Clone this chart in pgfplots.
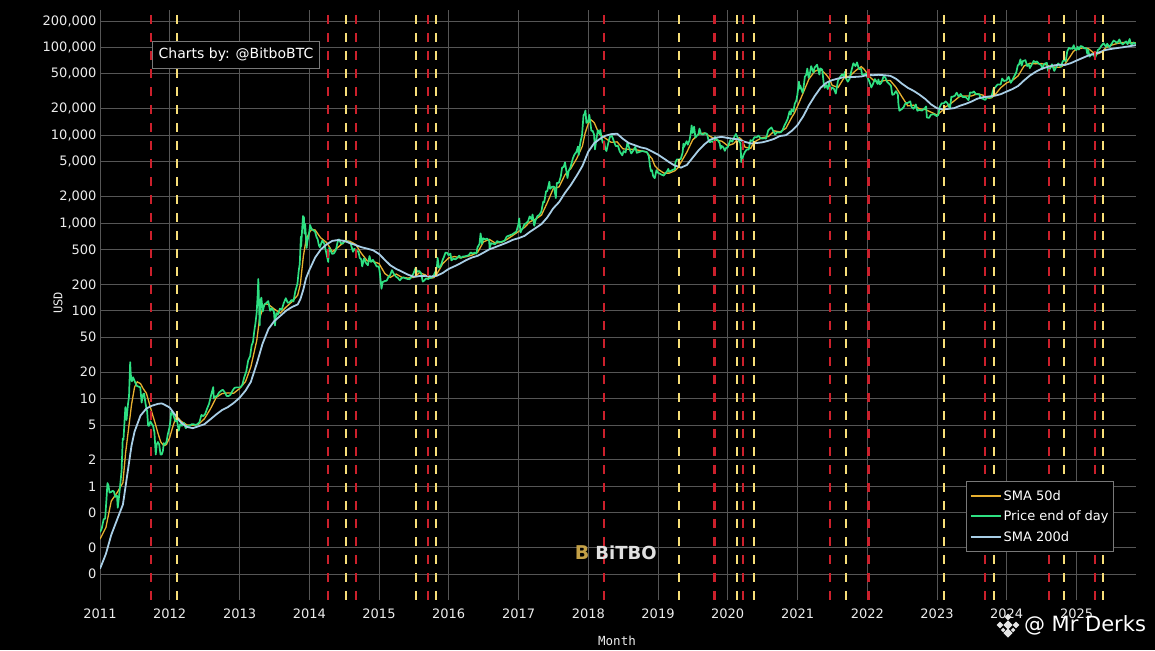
\documentclass[border=0pt]{standalone}
\usepackage{pgfplots}
\usepackage{pgfplotstable}
\pgfplotsset{compat=1.18}
\usepgfplotslibrary{dateplot}
\usepackage{fontspec}
\setmainfont{DejaVu Sans}
\newfontfamily\monofont{DejaVu Sans Mono}

\definecolor{priceGreen}{RGB}{46,224,130}
\definecolor{smaFifty}{RGB}{232,176,48}
\definecolor{smaTwoHundred}{RGB}{168,206,230}
\definecolor{crossRed}{RGB}{204,32,44}
\definecolor{crossYellow}{RGB}{247,222,120}
\definecolor{gridGray}{RGB}{86,86,86}
\definecolor{labelWhite}{RGB}{236,236,236}
\definecolor{boxGray}{RGB}{120,120,120}
\definecolor{bitboGold}{RGB}{196,160,70}

% daily close, sampled a few times a month
\pgfplotstableread{
date price
2011-01-01 0.30
2011-01-10 0.33
2011-01-20 0.42
2011-01-28 0.43
2011-02-04 0.72
2011-02-09 1.09
2011-02-14 1.03
2011-02-20 0.85
2011-02-28 0.86
2011-03-08 0.89
2011-03-15 0.87
2011-03-22 0.76
2011-03-31 0.78
2011-04-04 0.57
2011-04-10 0.74
2011-04-17 1.05
2011-04-24 1.50
2011-04-30 3.50
2011-05-04 3.40
2011-05-10 5.80
2011-05-14 8.00
2011-05-20 5.70
2011-05-27 8.40
2011-06-02 10.6
2011-06-05 16.7
2011-06-08 26.0
2011-06-10 21.0
2011-06-13 17.0
2011-06-17 15.7
2011-06-23 17.5
2011-06-30 16.1
2011-07-07 14.8
2011-07-14 13.9
2011-07-21 13.7
2011-07-31 13.4
2011-08-07 9.0
2011-08-10 9.9
2011-08-16 11.3
2011-08-20 11.4
2011-08-28 8.6
2011-09-05 7.1
2011-09-10 4.9
2011-09-15 4.9
2011-09-22 5.5
2011-09-30 5.1
2011-10-06 4.9
2011-10-13 4.1
2011-10-20 2.3
2011-10-25 3.0
2011-10-31 3.2
2011-11-07 3.0
2011-11-14 2.3
2011-11-20 2.3
2011-11-26 2.5
2011-12-01 3.1
2011-12-08 3.0
2011-12-15 3.2
2011-12-22 3.9
2011-12-31 4.7
2012-01-05 5.6
2012-01-09 7.1
2012-01-15 6.9
2012-01-22 6.3
2012-01-31 5.5
2012-02-08 5.7
2012-02-17 4.3
2012-02-25 5.1
2012-03-05 4.9
2012-03-15 5.3
2012-03-25 4.6
2012-04-05 4.9
2012-04-15 4.9
2012-04-25 5.1
2012-05-05 5.1
2012-05-15 5.0
2012-05-25 5.1
2012-06-05 5.4
2012-06-15 6.5
2012-06-25 6.3
2012-07-05 6.7
2012-07-15 7.7
2012-07-25 8.7
2012-08-05 11.0
2012-08-16 13.5
2012-08-19 10.0
2012-08-25 10.5
2012-09-05 10.7
2012-09-15 11.7
2012-09-25 12.2
2012-10-05 12.6
2012-10-15 11.8
2012-10-25 10.7
2012-11-05 10.7
2012-11-15 11.1
2012-11-25 12.3
2012-12-05 13.2
2012-12-15 13.4
2012-12-25 13.4
2013-01-05 13.4
2013-01-15 14.3
2013-01-25 17.4
2013-02-05 20.4
2013-02-15 27.2
2013-02-25 30.3
2013-03-05 40.3
2013-03-12 44.0
2013-03-19 59.0
2013-03-25 72.0
2013-03-31 93.0
2013-04-05 142
2013-04-09 230
2013-04-11 165
2013-04-16 68
2013-04-20 127
2013-04-25 141
2013-05-02 98
2013-05-10 117
2013-05-20 122
2013-05-31 129
2013-06-10 100
2013-06-20 107
2013-06-30 97
2013-07-05 68
2013-07-12 94
2013-07-20 90
2013-07-31 106
2013-08-10 103
2013-08-20 122
2013-08-31 139
2013-09-10 123
2013-09-20 125
2013-09-30 133
2013-10-10 128
2013-10-20 167
2013-10-31 204
2013-11-07 290
2013-11-12 340
2013-11-18 700
2013-11-19 540
2013-11-24 810
2013-11-29 1200
2013-12-04 1150
2013-12-07 760
2013-12-10 980
2013-12-18 520
2013-12-22 620
2013-12-31 760
2014-01-05 950
2014-01-12 860
2014-01-20 830
2014-01-31 800
2014-02-07 700
2014-02-14 650
2014-02-20 560
2014-02-25 530
2014-03-01 560
2014-03-10 630
2014-03-20 585
2014-03-31 455
2014-04-10 360
2014-04-15 520
2014-04-22 490
2014-04-30 445
2014-05-10 450
2014-05-20 490
2014-05-31 630
2014-06-05 650
2014-06-15 590
2014-06-25 580
2014-07-05 630
2014-07-15 620
2014-07-25 600
2014-08-05 590
2014-08-18 470
2014-08-25 510
2014-09-05 480
2014-09-15 475
2014-09-22 400
2014-09-30 385
2014-10-05 320
2014-10-15 395
2014-10-25 350
2014-11-04 330
2014-11-12 420
2014-11-20 360
2014-11-30 380
2014-12-10 350
2014-12-20 320
2014-12-31 320
2015-01-05 275
2015-01-14 178
2015-01-20 212
2015-01-31 218
2015-02-10 220
2015-02-20 244
2015-02-28 254
2015-03-10 290
2015-03-20 262
2015-03-31 245
2015-04-10 236
2015-04-20 222
2015-04-30 236
2015-05-10 240
2015-05-20 234
2015-05-31 230
2015-06-10 229
2015-06-20 245
2015-06-30 264
2015-07-12 310
2015-07-20 278
2015-07-31 284
2015-08-10 265
2015-08-18 215
2015-08-25 220
2015-09-05 234
2015-09-15 230
2015-09-25 236
2015-10-05 240
2015-10-15 254
2015-10-25 285
2015-10-31 314
2015-11-04 400
2015-11-11 310
2015-11-20 322
2015-11-30 378
2015-12-08 415
2015-12-15 460
2015-12-25 455
2015-12-31 430
2016-01-10 448
2016-01-15 375
2016-01-25 392
2016-02-05 385
2016-02-15 400
2016-02-25 425
2016-03-05 400
2016-03-15 415
2016-03-25 417
2016-04-05 422
2016-04-15 430
2016-04-25 462
2016-05-05 448
2016-05-15 458
2016-05-25 448
2016-05-31 530
2016-06-10 575
2016-06-16 760
2016-06-23 580
2016-06-30 670
2016-07-10 650
2016-07-20 665
2016-07-31 624
2016-08-02 515
2016-08-10 590
2016-08-20 580
2016-08-31 573
2016-09-10 622
2016-09-20 608
2016-09-30 609
2016-10-10 617
2016-10-20 630
2016-10-31 700
2016-11-10 715
2016-11-20 730
2016-11-30 743
2016-12-10 772
2016-12-20 796
2016-12-31 964
2017-01-04 1130
2017-01-11 780
2017-01-15 820
2017-01-25 890
2017-01-31 965
2017-02-10 995
2017-02-20 1050
2017-02-28 1190
2017-03-10 1100
2017-03-15 1250
2017-03-24 930
2017-03-31 1080
2017-04-10 1200
2017-04-20 1240
2017-04-30 1350
2017-05-10 1750
2017-05-15 1720
2017-05-25 2300
2017-05-31 2300
2017-06-11 2950
2017-06-15 2450
2017-06-25 2580
2017-07-05 2600
2017-07-15 1920
2017-07-20 2850
2017-07-31 2870
2017-08-10 3400
2017-08-17 4300
2017-08-25 4340
2017-09-01 4900
2017-09-14 3250
2017-09-20 3900
2017-09-30 4340
2017-10-12 5430
2017-10-20 6000
2017-10-31 6470
2017-11-08 7440
2017-11-12 5950
2017-11-20 8200
2017-11-29 9950
2017-12-07 16900
2017-12-12 17400
2017-12-17 19100
2017-12-22 13800
2017-12-31 14150
2018-01-06 17100
2018-01-12 13900
2018-01-17 11200
2018-01-24 11200
2018-01-31 10200
2018-02-05 6900
2018-02-12 8900
2018-02-20 11400
2018-02-28 10400
2018-03-05 11500
2018-03-12 9200
2018-03-18 8200
2018-03-25 8500
2018-03-31 6970
2018-04-06 6600
2018-04-15 8050
2018-04-24 9600
2018-05-05 9800
2018-05-15 8500
2018-05-25 7500
2018-06-05 7600
2018-06-15 6500
2018-06-28 5900
2018-07-05 6600
2018-07-15 6350
2018-07-25 8200
2018-08-05 7000
2018-08-14 6200
2018-08-25 6700
2018-09-04 7370
2018-09-12 6300
2018-09-25 6450
2018-10-10 6600
2018-10-25 6500
2018-11-05 6400
2018-11-14 5750
2018-11-20 4450
2018-11-25 3900
2018-11-30 4000
2018-12-07 3400
2018-12-15 3240
2018-12-24 4000
2018-12-31 3740
2019-01-10 3650
2019-01-20 3550
2019-01-31 3470
2019-02-08 3660
2019-02-18 3900
2019-02-24 4140
2019-02-28 3850
2019-03-10 3920
2019-03-20 4050
2019-03-31 4100
2019-04-02 4880
2019-04-10 5300
2019-04-20 5300
2019-04-30 5350
2019-05-10 6350
2019-05-14 8000
2019-05-17 7340
2019-05-25 8050
2019-05-31 8560
2019-06-06 7800
2019-06-15 8800
2019-06-22 10700
2019-06-26 12900
2019-07-02 10600
2019-07-09 12500
2019-07-16 9400
2019-07-23 9900
2019-07-31 10100
2019-08-06 11900
2019-08-15 10300
2019-08-25 10150
2019-09-05 10600
2019-09-15 10300
2019-09-24 8500
2019-09-30 8300
2019-10-10 8600
2019-10-22 8200
2019-10-26 9550
2019-10-31 9200
2019-11-10 8800
2019-11-20 8100
2019-11-25 7000
2019-11-30 7560
2019-12-10 7220
2019-12-17 6640
2019-12-25 7250
2019-12-31 7200
2020-01-08 8050
2020-01-15 8820
2020-01-25 8440
2020-02-05 9610
2020-02-13 10330
2020-02-20 9600
2020-02-29 8600
2020-03-08 8100
2020-03-12 4950
2020-03-16 5030
2020-03-22 5830
2020-03-31 6440
2020-04-10 6870
2020-04-20 6880
2020-04-29 8780
2020-05-10 8600
2020-05-20 9520
2020-05-31 9450
2020-06-10 9880
2020-06-20 9300
2020-06-30 9140
2020-07-10 9240
2020-07-20 9160
2020-07-31 11350
2020-08-10 11900
2020-08-17 12250
2020-08-25 11360
2020-09-05 10170
2020-09-15 10790
2020-09-25 10740
2020-10-05 10790
2020-10-15 11510
2020-10-25 13030
2020-10-31 13800
2020-11-10 15340
2020-11-20 18700
2020-11-26 17150
2020-11-30 19700
2020-12-10 18540
2020-12-17 22800
2020-12-25 24700
2020-12-31 29000
2021-01-08 40800
2021-01-12 33900
2021-01-15 36800
2021-01-22 33000
2021-01-27 30400
2021-01-31 33100
2021-02-08 46400
2021-02-15 48700
2021-02-21 57500
2021-02-28 45100
2021-03-05 48900
2021-03-13 61200
2021-03-25 51700
2021-03-31 58900
2021-04-13 63500
2021-04-25 49000
2021-04-30 57700
2021-05-10 55800
2021-05-19 37000
2021-05-23 34700
2021-05-31 37300
2021-06-08 33500
2021-06-15 40200
2021-06-22 32500
2021-06-30 35000
2021-07-10 33800
2021-07-20 29800
2021-07-31 41500
2021-08-10 45600
2021-08-22 49300
2021-08-31 47100
2021-09-06 52700
2021-09-10 44900
2021-09-21 40700
2021-09-30 43800
2021-10-10 54700
2021-10-20 66000
2021-10-31 61300
2021-11-08 67500
2021-11-18 56900
2021-11-30 57000
2021-12-04 49400
2021-12-15 48900
2021-12-27 50600
2021-12-31 46300
2022-01-10 41800
2022-01-22 35000
2022-01-31 38500
2022-02-10 43600
2022-02-24 38300
2022-02-28 43200
2022-03-07 38000
2022-03-15 39300
2022-03-28 47100
2022-04-05 45500
2022-04-15 40500
2022-04-30 37700
2022-05-05 36500
2022-05-12 28900
2022-05-20 29200
2022-05-31 31800
2022-06-10 29100
2022-06-13 22500
2022-06-18 19000
2022-06-30 19800
2022-07-10 20800
2022-07-20 23200
2022-07-31 23300
2022-08-14 24300
2022-08-20 21100
2022-08-31 20000
2022-09-12 22400
2022-09-20 19000
2022-09-30 19400
2022-10-15 19100
2022-10-31 20500
2022-11-05 21300
2022-11-09 15900
2022-11-21 15800
2022-11-30 17100
2022-12-15 17400
2022-12-31 16500
2023-01-08 17100
2023-01-15 20900
2023-01-25 23100
2023-02-05 23000
2023-02-15 24300
2023-02-25 23100
2023-03-10 20200
2023-03-17 27400
2023-03-25 27500
2023-04-05 28200
2023-04-14 30500
2023-04-25 27500
2023-05-05 29500
2023-05-15 27200
2023-05-31 27200
2023-06-15 25100
2023-06-23 30700
2023-07-05 30500
2023-07-13 31500
2023-07-25 29200
2023-08-10 29400
2023-08-17 26600
2023-08-31 25900
2023-09-11 25200
2023-09-20 27200
2023-09-30 27000
2023-10-12 26800
2023-10-24 33900
2023-10-31 34600
2023-11-09 36700
2023-11-15 37900
2023-11-30 37700
2023-12-08 44200
2023-12-18 41400
2023-12-31 42300
2024-01-11 46300
2024-01-22 39500
2024-01-31 42600
2024-02-10 47100
2024-02-20 52000
2024-02-28 62500
2024-03-05 63800
2024-03-13 73100
2024-03-19 62000
2024-03-26 70000
2024-04-08 71600
2024-04-17 61300
2024-04-25 64500
2024-05-01 58200
2024-05-15 66200
2024-05-21 70100
2024-05-31 67500
2024-06-07 69400
2024-06-18 65200
2024-06-30 62700
2024-07-05 56700
2024-07-15 64800
2024-07-29 66800
2024-08-05 54000
2024-08-15 57600
2024-08-25 64200
2024-09-06 54000
2024-09-15 59100
2024-09-27 65800
2024-10-10 60300
2024-10-20 69000
2024-10-29 72700
2024-11-05 69400
2024-11-13 90500
2024-11-22 98900
2024-11-30 96400
2024-12-05 97800
2024-12-10 96600
2024-12-17 106100
2024-12-20 97800
2024-12-31 93400
2025-01-06 102100
2025-01-13 94500
2025-01-22 103700
2025-01-31 102400
2025-02-10 97400
2025-02-20 98300
2025-02-26 84300
2025-03-02 94200
2025-03-10 78500
2025-03-20 84200
2025-03-31 82500
2025-04-08 76300
2025-04-15 83700
2025-04-22 93400
2025-05-01 96500
2025-05-10 104000
2025-05-22 111700
2025-05-31 104600
2025-06-05 101500
2025-06-10 110200
2025-06-22 101000
2025-06-30 107100
2025-07-10 116000
2025-07-14 119800
2025-07-25 115500
2025-08-02 112500
2025-08-13 123300
2025-08-20 113500
2025-08-31 108200
2025-09-10 113900
2025-09-18 117100
2025-09-25 109000
2025-10-06 124700
2025-10-10 113200
2025-10-17 106500
2025-10-27 114100
2025-11-03 110000
2025-11-08 111000
}\priceTable

\pgfplotstableread{
date sma
2011-01-01 0.25
2011-02-01 0.34
2011-03-01 0.68
2011-04-01 0.85
2011-05-01 1.1
2011-05-15 2.4
2011-06-01 4.8
2011-06-15 8.5
2011-07-01 13.5
2011-07-15 15.5
2011-08-01 14.8
2011-08-15 13.0
2011-09-01 11.5
2011-09-15 9.0
2011-10-01 6.8
2011-10-15 5.4
2011-11-01 4.0
2011-11-15 3.2
2011-12-01 2.9
2011-12-15 3.0
2012-01-01 3.6
2012-01-15 4.6
2012-02-01 6.0
2012-02-15 6.0
2012-03-01 5.5
2012-04-01 5.0
2012-05-01 4.95
2012-06-01 5.1
2012-07-01 5.9
2012-08-01 7.6
2012-09-01 10.3
2012-10-01 11.4
2012-11-01 11.6
2012-12-01 11.5
2013-01-01 13.0
2013-02-01 15.6
2013-03-01 23
2013-04-01 46
2013-04-15 80
2013-05-01 105
2013-05-15 120
2013-06-01 118
2013-07-01 105
2013-08-01 94
2013-09-01 110
2013-10-01 126
2013-11-01 150
2013-11-15 200
2013-12-01 420
2013-12-15 640
2014-01-01 780
2014-01-15 850
2014-02-01 830
2014-03-01 680
2014-04-01 600
2014-04-15 540
2014-05-01 470
2014-06-01 530
2014-07-01 605
2014-07-15 625
2014-08-01 620
2014-09-01 570
2014-09-15 510
2014-10-01 450
2014-11-01 370
2014-12-01 365
2015-01-01 345
2015-02-01 265
2015-03-01 240
2015-04-01 262
2015-05-01 240
2015-06-01 236
2015-07-01 240
2015-07-15 252
2015-08-01 272
2015-09-01 256
2015-09-15 242
2015-10-01 236
2015-10-15 238
2015-11-01 265
2015-12-01 345
2016-01-01 400
2016-02-01 415
2016-03-01 400
2016-04-01 413
2016-05-01 430
2016-06-01 465
2016-07-01 610
2016-08-01 650
2016-09-01 590
2016-10-01 600
2016-11-01 650
2016-12-01 720
2017-01-01 800
2017-02-01 890
2017-03-01 1030
2017-04-01 1110
2017-05-01 1230
2017-06-01 1720
2017-07-01 2450
2017-08-01 2580
2017-09-01 3550
2017-10-01 4150
2017-11-01 5400
2017-12-01 7500
2017-12-15 10500
2018-01-01 13600
2018-01-15 15000
2018-02-01 13900
2018-02-15 11800
2018-03-01 10300
2018-03-15 9800
2018-04-01 9200
2018-05-01 8300
2018-06-01 8400
2018-07-01 7000
2018-08-01 6900
2018-09-01 6900
2018-10-01 6650
2018-11-01 6450
2018-12-01 5400
2018-12-15 4500
2019-01-01 4100
2019-02-01 3700
2019-03-01 3700
2019-04-01 3950
2019-04-15 4250
2019-05-01 4900
2019-06-01 6400
2019-07-01 8800
2019-08-01 10300
2019-09-01 10600
2019-10-01 9700
2019-10-15 9350
2019-11-01 8800
2019-12-01 8550
2020-01-01 7600
2020-02-01 8000
2020-03-01 9400
2020-03-15 8900
2020-04-01 7300
2020-05-01 7100
2020-05-15 8150
2020-06-01 8700
2020-07-01 9400
2020-08-01 9650
2020-09-01 11200
2020-10-01 10900
2020-11-01 12000
2020-12-01 15900
2020-12-15 17800
2021-01-01 21500
2021-02-01 31000
2021-03-01 43500
2021-04-01 53500
2021-05-01 57000
2021-06-01 48500
2021-06-15 44500
2021-07-01 37000
2021-08-01 35000
2021-09-01 45000
2021-09-15 46600
2021-10-01 47000
2021-11-01 54500
2021-12-01 60500
2021-12-15 56500
2022-01-01 50300
2022-01-15 46000
2022-02-01 42500
2022-03-01 40300
2022-04-01 42000
2022-05-01 42000
2022-06-01 35000
2022-07-01 27500
2022-08-01 21600
2022-09-01 22000
2022-10-01 20000
2022-11-01 19600
2022-12-01 18300
2023-01-01 17000
2023-02-01 19300
2023-02-15 21200
2023-03-01 21800
2023-04-01 24600
2023-05-01 27800
2023-06-01 28000
2023-07-01 28000
2023-08-01 29700
2023-09-01 28500
2023-09-15 26900
2023-10-01 26400
2023-10-15 26800
2023-11-01 28900
2023-12-01 34800
2024-01-01 39500
2024-02-01 42200
2024-03-01 47500
2024-04-01 61500
2024-05-01 66000
2024-06-01 65000
2024-07-01 65400
2024-08-01 62800
2024-08-15 60300
2024-09-01 59800
2024-10-01 59300
2024-10-15 60500
2024-11-01 64500
2024-12-01 80500
2024-12-15 90000
2025-01-01 96000
2025-02-01 98500
2025-03-01 98000
2025-04-01 86500
2025-04-15 83500
2025-05-01 86000
2025-05-15 89500
2025-06-01 98500
2025-07-01 105800
2025-08-01 110800
2025-09-01 113800
2025-10-01 112400
2025-11-01 113300
2025-11-08 112000
}\smaFiftyTable

\pgfplotstableread{
date sma
2011-01-01 0.115
2011-02-01 0.17
2011-03-01 0.28
2011-04-01 0.42
2011-05-01 0.62
2011-05-15 1.0
2011-06-01 1.8
2011-06-15 2.9
2011-07-01 4.2
2011-08-01 6.4
2011-09-01 7.7
2011-10-01 8.3
2011-11-01 8.7
2011-11-20 8.8
2011-12-01 8.6
2012-01-01 7.9
2012-02-01 6.4
2012-02-15 5.8
2012-03-01 5.3
2012-04-01 4.75
2012-05-01 4.6
2012-06-01 4.85
2012-07-01 5.1
2012-08-01 5.8
2012-09-01 6.6
2012-10-01 7.4
2012-11-01 8.0
2012-12-01 8.9
2013-01-01 10.2
2013-02-01 12.3
2013-03-01 15.5
2013-04-01 25
2013-05-01 42
2013-06-01 62
2013-07-01 76
2013-08-01 87
2013-09-01 100
2013-10-01 110
2013-11-01 118
2013-11-15 135
2013-12-01 175
2013-12-15 235
2014-01-01 290
2014-02-01 405
2014-03-01 495
2014-04-01 570
2014-04-15 595
2014-05-01 625
2014-06-01 640
2014-07-01 625
2014-07-15 612
2014-08-01 590
2014-09-01 560
2014-09-15 545
2014-10-01 530
2014-11-01 510
2014-12-01 489
2015-01-01 444
2015-02-01 379
2015-03-01 330
2015-04-01 300
2015-05-01 279
2015-06-01 258
2015-07-01 245
2015-07-15 245
2015-08-01 249
2015-09-01 250
2015-09-15 248
2015-10-01 246
2015-10-15 247
2015-11-01 251
2015-12-01 270
2016-01-01 300
2016-02-01 322
2016-03-01 346
2016-04-01 377
2016-05-01 404
2016-06-01 423
2016-07-01 459
2016-08-01 501
2016-09-01 531
2016-10-01 563
2016-11-01 598
2016-12-01 642
2017-01-01 672
2017-02-01 713
2017-03-01 792
2017-04-01 878
2017-05-01 973
2017-06-01 1163
2017-07-01 1465
2017-08-01 1730
2017-09-01 2205
2017-10-01 2700
2017-11-01 3450
2017-12-01 4450
2018-01-01 6500
2018-02-01 8125
2018-03-01 9025
2018-03-15 9450
2018-04-01 9860
2018-05-01 10280
2018-06-01 10400
2018-07-01 9100
2018-08-01 8130
2018-09-01 7700
2018-10-01 7280
2018-11-01 7040
2018-12-01 6525
2019-01-01 6010
2019-02-01 5420
2019-03-01 4920
2019-04-01 4475
2019-04-15 4420
2019-05-01 4270
2019-06-01 4580
2019-07-01 5530
2019-08-01 6710
2019-09-01 7875
2019-10-01 8870
2019-10-15 9100
2019-11-01 9400
2019-12-01 9580
2020-01-01 9300
2020-02-01 9100
2020-03-01 8950
2020-03-15 8650
2020-04-01 8400
2020-05-01 8050
2020-05-15 8100
2020-06-01 8150
2020-07-01 8300
2020-08-01 8650
2020-09-01 9100
2020-10-01 9800
2020-11-01 10000
2020-12-01 11200
2021-01-01 13100
2021-02-01 16630
2021-03-01 21830
2021-04-01 28020
2021-05-01 34640
2021-06-01 39660
2021-06-15 41000
2021-07-01 42400
2021-08-01 44240
2021-09-01 45840
2021-09-15 45840
2021-10-01 45840
2021-11-01 46200
2021-12-01 46700
2022-01-01 48500
2022-02-01 48300
2022-03-01 48740
2022-04-01 48190
2022-05-01 47540
2022-06-01 43860
2022-07-01 38700
2022-08-01 34700
2022-09-01 31970
2022-10-01 29010
2022-11-01 25840
2022-12-01 22430
2023-01-01 20310
2023-02-01 19710
2023-03-01 19970
2023-04-01 20360
2023-05-01 21640
2023-06-01 22770
2023-07-01 24210
2023-08-01 26100
2023-09-01 27190
2023-10-01 27610
2023-10-15 27900
2023-11-01 28240
2023-12-01 29340
2024-01-01 31460
2024-02-01 33610
2024-03-01 36410
2024-04-01 42090
2024-05-01 47760
2024-06-01 52830
2024-07-01 57090
2024-08-01 59900
2024-09-01 62210
2024-10-01 63570
2024-11-01 63210
2024-12-01 66140
2025-01-01 70930
2025-02-01 75810
2025-03-01 80530
2025-04-01 84240
2025-05-01 88070
2025-06-01 93430
2025-07-01 96140
2025-08-01 98360
2025-09-01 100500
2025-10-01 103000
2025-11-01 105500
2025-11-08 106000
}\smaTwoHundredTable

\begin{document}
\begin{tikzpicture}
\useasboundingbox[fill=black] (0,0) rectangle (1155pt,650pt);

\begin{axis}[
  at={(100pt,50pt)}, anchor=south west,
  scale only axis, width=1036pt, height=590pt,
  date coordinates in=x,
  xmin=2011-01-01, xmax=2025-11-08,
  xtick={2011-01-01,2012-01-01,2013-01-01,2014-01-01,2015-01-01,2016-01-01,2017-01-01,2018-01-01,2019-01-01,2020-01-01,2021-01-01,2022-01-01,2023-01-01,2024-01-01,2025-01-01},
  xticklabel={\year},
  ymode=log, ymin=0.0507, ymax=267000,
  ytick={0.1,0.2,0.5,1,2,5,10,20,50,100,200,500,1000,2000,5000,10000,20000,50000,100000,200000},
  yticklabels={0,0,0,1,2,5,10,20,50,100,200,500,{1,000},{2,000},{5,000},{10,000},{20,000},{50,000},{100,000},{200,000}},
  /pgf/number format/assume math mode=true,
  tick label style={font=\fontsize{13}{15}\selectfont, text=labelWhite},
  xticklabel style={yshift=-5pt},
  axis line style={draw=none},
  major tick length=0pt,
  grid=major,
  major grid style={draw=gridGray, line width=0.9pt},
  unbounded coords=jump,
  legend style={at={(0.9788,0.2017)}, anchor=north east, fill=black, draw=boxGray,
    line width=0.8pt, text=white, font=\fontsize{13}{15}\selectfont,
    inner xsep=3pt, inner ysep=7pt, row sep=5pt,
    nodes={inner sep=2pt}},
  legend cell align=left,
  legend image code/.code={\draw[#1, line width=2pt] (0pt,0pt) -- (30pt,0pt);},
]
\addplot[smaFifty, line width=1.3pt] table[x=date, y=sma] {\smaFiftyTable};
\addlegendentry{SMA 50d}
\addplot[priceGreen, line width=1.7pt, line join=round] table[x=date, y=price] {\priceTable};
\addlegendentry{Price end of day}
\addplot[smaTwoHundred, line width=1.8pt] table[x=date, y=sma] {\smaTwoHundredTable};
\addlegendentry{SMA 200d}

% death crosses (SMA 50d falls below SMA 200d)
\addplot[forget plot, crossRed, line width=2.4pt, dash pattern=on 9pt off 9pt, dash phase=13pt]
  coordinates {
  (2011-09-24,267000) (2011-09-24,0.0507) (2011-09-24,nan)
  (2014-04-08,267000) (2014-04-08,0.0507) (2014-04-08,nan)
  (2014-09-03,267000) (2014-09-03,0.0507) (2014-09-03,nan)
  (2015-09-13,267000) (2015-09-13,0.0507) (2015-09-13,nan)
  (2018-03-24,267000) (2018-03-24,0.0507) (2018-03-24,nan)
  (2019-10-24,267000) (2019-10-24,0.0507) (2019-10-24,nan)
  (2020-03-20,267000) (2020-03-20,0.0507) (2020-03-20,nan)
  (2021-06-20,267000) (2021-06-20,0.0507) (2021-06-20,nan)
  (2022-01-08,267000) (2022-01-08,0.0507) (2022-01-08,nan)
  (2023-09-10,267000) (2023-09-10,0.0507) (2023-09-10,nan)
  (2024-08-10,267000) (2024-08-10,0.0507) (2024-08-10,nan)
  (2025-04-06,267000) (2025-04-06,0.0507)
  };
% golden crosses (SMA 50d rises above SMA 200d)
\addplot[forget plot, crossYellow, line width=2.4pt, dash pattern=on 9pt off 9pt, dash phase=13pt]
  coordinates {
  (2012-02-08,267000) (2012-02-08,0.0507) (2012-02-08,nan)
  (2014-07-12,267000) (2014-07-12,0.0507) (2014-07-12,nan)
  (2015-07-13,267000) (2015-07-13,0.0507) (2015-07-13,nan)
  (2015-10-26,267000) (2015-10-26,0.0507) (2015-10-26,nan)
  (2019-04-21,267000) (2019-04-21,0.0507) (2019-04-21,nan)
  (2020-02-19,267000) (2020-02-19,0.0507) (2020-02-19,nan)
  (2020-05-17,267000) (2020-05-17,0.0507) (2020-05-17,nan)
  (2021-09-12,267000) (2021-09-12,0.0507) (2021-09-12,nan)
  (2023-02-06,267000) (2023-02-06,0.0507) (2023-02-06,nan)
  (2023-10-28,267000) (2023-10-28,0.0507) (2023-10-28,nan)
  (2024-10-26,267000) (2024-10-26,0.0507) (2024-10-26,nan)
  (2025-05-19,267000) (2025-05-19,0.0507)
  };
\end{axis}

% annotation box and axis titles
\node[draw=boxGray, fill=black, line width=0.8pt, text=white, inner xsep=6pt,
  minimum height=27pt, font=\fontsize{14}{16}\selectfont] at (236pt,595.5pt) {Charts by: @BitboBTC};
\node[rotate=90, text=labelWhite, font=\monofont\fontsize{12}{14}\selectfont] at (58pt,347pt) {USD};
\node[text=labelWhite, font=\monofont\fontsize{12.5}{14}\selectfont] at (617pt,9pt) {Month};

% watermarks
\node[text=bitboGold, font=\bfseries\fontsize{19}{20}\selectfont] at (582pt,97pt) {B};
\node[text=white!88!black, font=\bfseries\fontsize{18}{20}\selectfont] at (626pt,97pt) {BiTBO};
\foreach \dx/\dy/\s in {0/0/3.2, -8/0/2.4, 8/0/2.4, 0/-8/3.2, 0/8/2.4, -5/-5/1.6, 5/-5/1.6}
  \fill[white!80!gray, rotate around={45:(1008pt+\dx pt,25pt+\dy pt)}]
    (1008pt+\dx pt-\s pt,25pt+\dy pt-\s pt) rectangle (1008pt+\dx pt+\s pt,25pt+\dy pt+\s pt);
\node[text=white, font=\fontsize{21}{24}\selectfont] at (1085pt,25pt) {@ Mr Derks};
\end{tikzpicture}
\end{document}
